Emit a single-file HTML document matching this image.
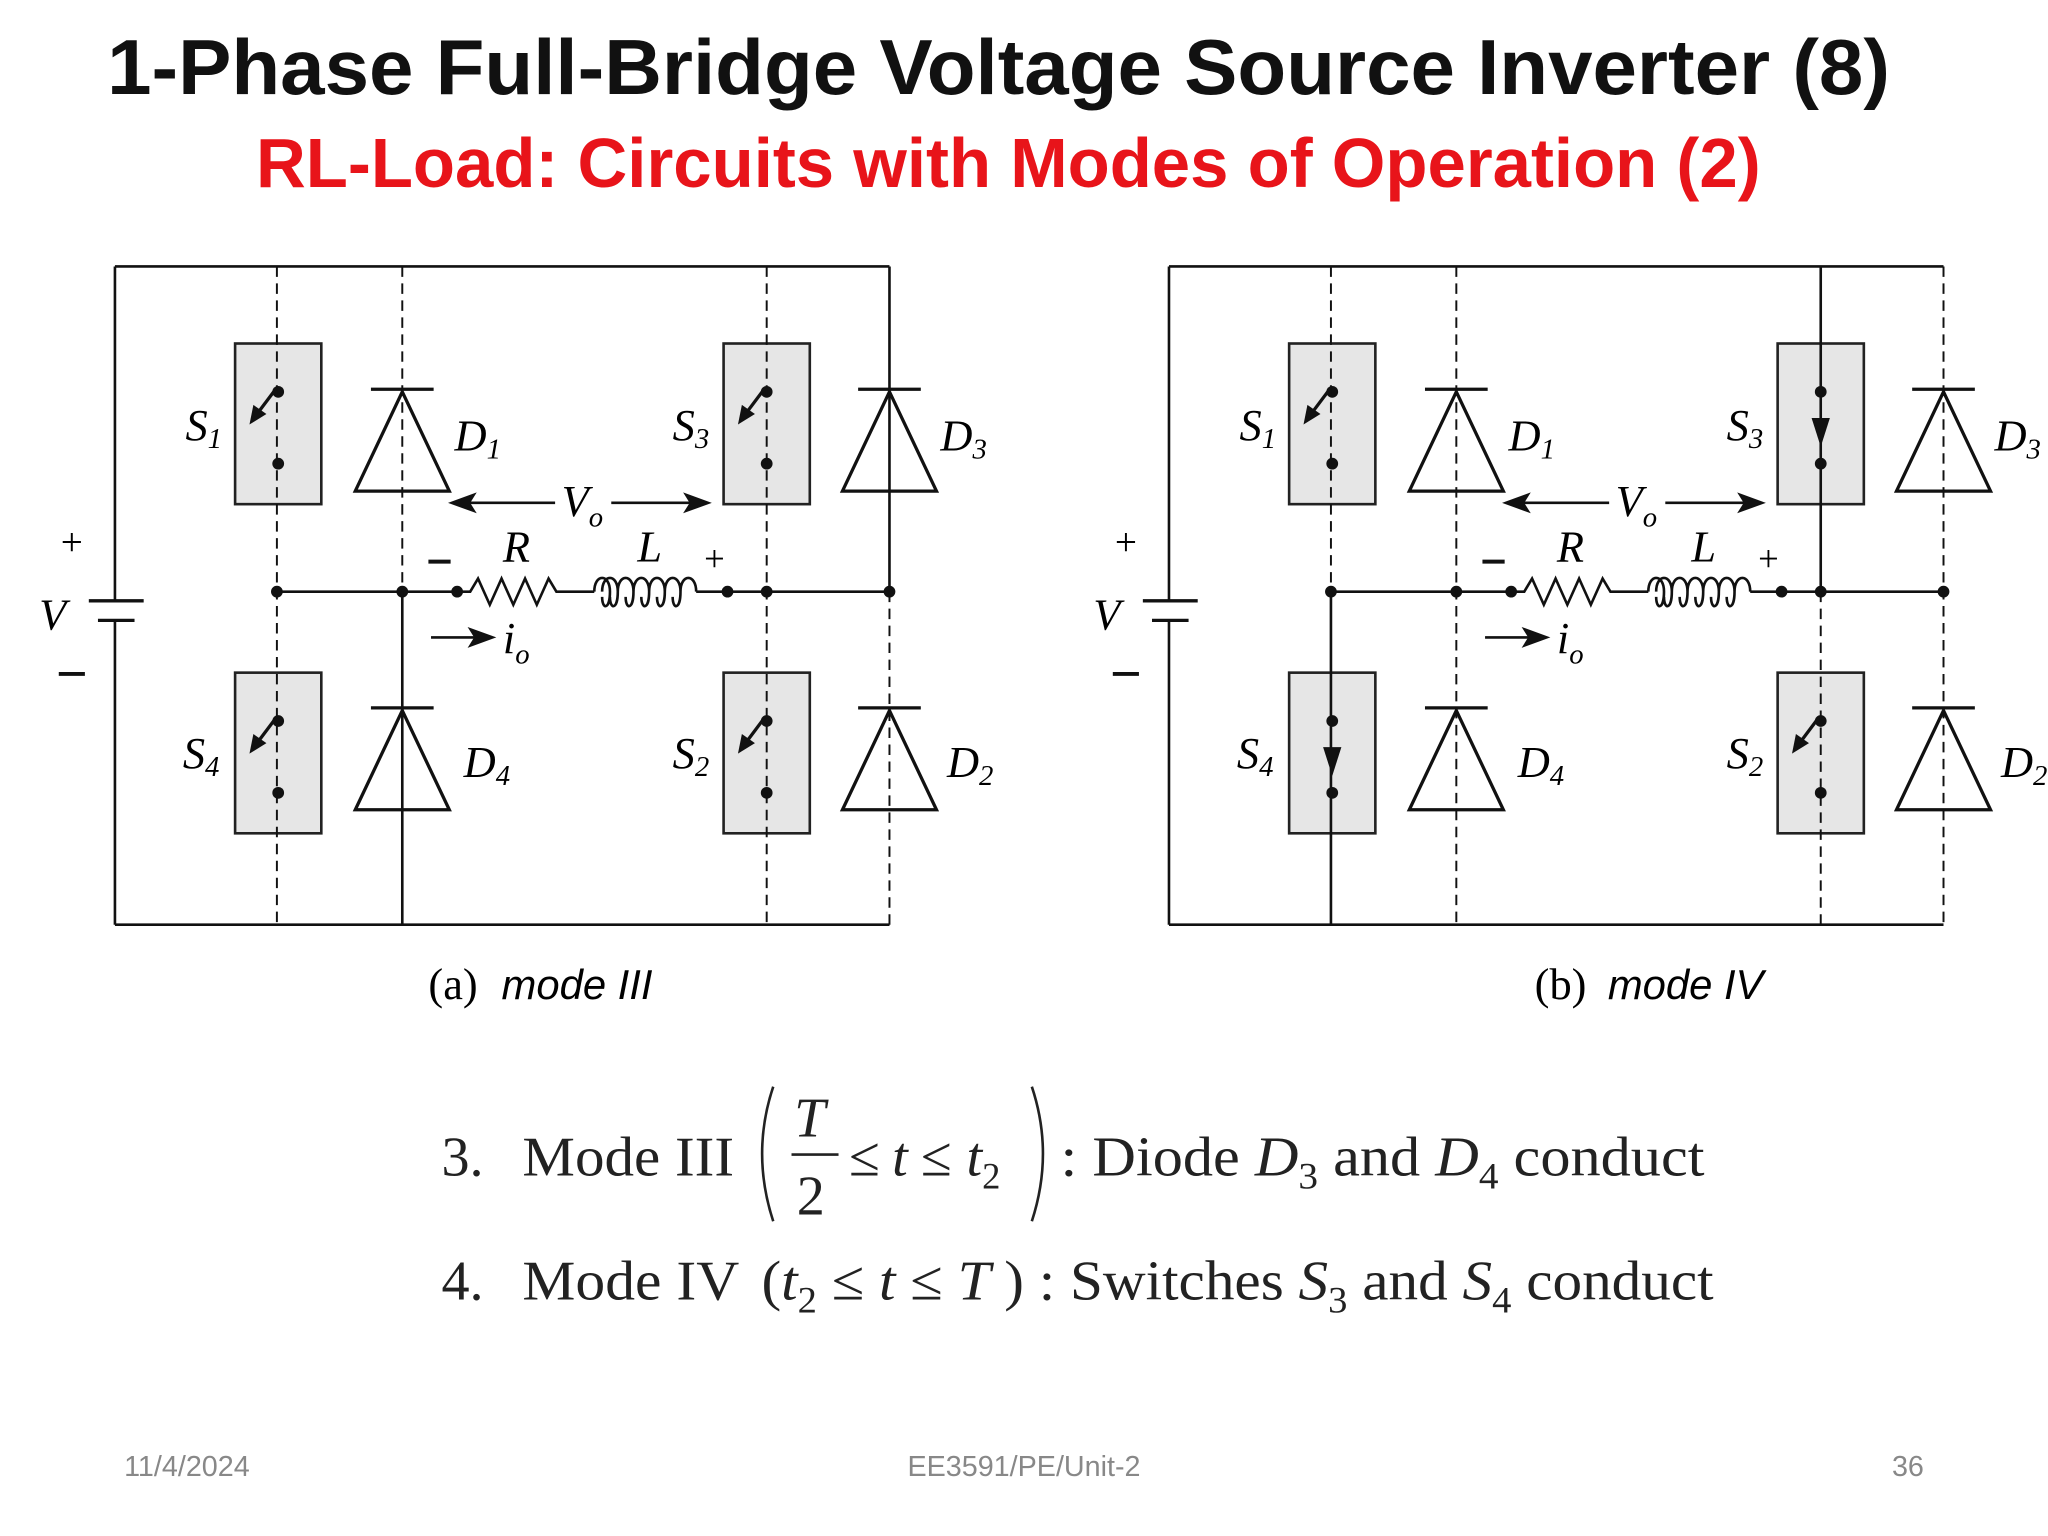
<!DOCTYPE html>
<html><head><meta charset="utf-8"><style>
html,body{margin:0;padding:0;background:#fff;width:2048px;height:1536px;overflow:hidden}
svg{display:block}
.t{font-family:"Liberation Serif",serif;font-style:italic}
.r{font-family:"Liberation Serif",serif}
</style></head><body>
<svg width="2048" height="1536" viewBox="0 0 1568 1176" xmlns="http://www.w3.org/2000/svg">
<text x="82" y="72" textLength="1365" lengthAdjust="spacingAndGlyphs" font-family="Liberation Sans,sans-serif" font-weight="bold" font-size="60" fill="#111">1-Phase Full-Bridge Voltage Source Inverter (8)</text>
<text x="196" y="143" textLength="1152" lengthAdjust="spacingAndGlyphs" font-family="Liberation Sans,sans-serif" font-weight="bold" font-size="53" fill="#e8141a">RL-Load: Circuits with Modes of Operation (2)</text>

<defs>
<g id="sw">
<rect x="-33" y="0" width="66" height="123" fill="#e6e6e6" stroke="#222" stroke-width="2"/>
<circle cx="0" cy="37" r="4.5" fill="#111"/><circle cx="0" cy="92" r="4.5" fill="#111"/>
</g>
<g id="diag"><line x1="-2" y1="-2" x2="-20" y2="22" stroke="#111" stroke-width="2.5"/><path d="M-22,25 L-19,10 L-9,17 Z" fill="#111"/></g>
<g id="di">
<polygon points="0,2 -36,78 36,78" fill="#fff" stroke="#111" stroke-width="2.5"/>
<line x1="-24" y1="0" x2="24" y2="0" stroke="#111" stroke-width="2.5"/>
</g>
<g id="rl">
<polyline points="350,453 360,453 366,443 375,463 384,443 393,463 402,443 411,463 420,443 426,453 455,453" fill="none" stroke="#111" stroke-width="2"/>
<path d="M455,453 c0,-14 12,-14 12,0 c0,14 -6,14 -6,4 M461,453 c0,-14 12,-14 12,0 c0,14 -6,14 -6,4 M473,453 c0,-14 12,-14 12,0 c0,14 -6,14 -6,4 M485,453 c0,-14 12,-14 12,0 c0,14 -6,14 -6,4 M497,453 c0,-14 12,-14 12,0 c0,14 -6,14 -6,4 M509,453 c0,-14 12,-14 12,0 c0,14 -6,14 -6,4 M521,453 c0,-14 12,-14 12,0" fill="none" stroke="#111" stroke-width="2"/>
<line x1="533" y1="453" x2="557" y2="453" stroke="#111" stroke-width="2"/>
</g>
<g id="common">
<line x1="88" y1="204" x2="681" y2="204" stroke="#111" stroke-width="2"/>
<line x1="88" y1="708" x2="681" y2="708" stroke="#111" stroke-width="2"/>
<line x1="88" y1="204" x2="88" y2="460" stroke="#111" stroke-width="2"/>
<line x1="88" y1="475" x2="88" y2="708" stroke="#111" stroke-width="2"/>
<line x1="68" y1="460" x2="110" y2="460" stroke="#111" stroke-width="2.5"/>
<line x1="75" y1="475" x2="103" y2="475" stroke="#111" stroke-width="2.5"/>
<text x="55" y="425" class="r" font-size="30" text-anchor="middle">+</text>
<line x1="45" y1="516" x2="65" y2="516" stroke="#111" stroke-width="3"/>
<text x="30" y="482" class="t" font-size="34">V</text>
<line x1="212" y1="453" x2="350" y2="453" stroke="#111" stroke-width="2"/>
<line x1="557" y1="453" x2="681" y2="453" stroke="#111" stroke-width="2"/>
<use href="#rl"/>
<g fill="#111"><circle cx="212" cy="453" r="4.5"/><circle cx="308" cy="453" r="4.5"/><circle cx="350" cy="453" r="4.5"/><circle cx="557" cy="453" r="4.5"/><circle cx="587" cy="453" r="4.5"/><circle cx="681" cy="453" r="4.5"/></g>
<use href="#sw" x="213" y="263"/><use href="#sw" x="213" y="515"/><use href="#sw" x="587" y="263"/><use href="#sw" x="587" y="515"/>
<use href="#di" x="308" y="298"/><use href="#di" x="308" y="542"/><use href="#di" x="681" y="298"/><use href="#di" x="681" y="542"/>
<text x="142" y="337" class="t" font-size="34">S<tspan font-size="22" dy="6">1</tspan></text>
<text x="140" y="588" class="t" font-size="34">S<tspan font-size="22" dy="6">4</tspan></text>
<text x="515" y="337" class="t" font-size="34">S<tspan font-size="22" dy="6">3</tspan></text>
<text x="515" y="588" class="t" font-size="34">S<tspan font-size="22" dy="6">2</tspan></text>
<text x="348" y="345" class="t" font-size="34">D<tspan font-size="22" dy="6">1</tspan></text>
<text x="355" y="595" class="t" font-size="34">D<tspan font-size="22" dy="6">4</tspan></text>
<text x="720" y="345" class="t" font-size="34">D<tspan font-size="22" dy="6">3</tspan></text>
<text x="725" y="595" class="t" font-size="34">D<tspan font-size="22" dy="6">2</tspan></text>
<line x1="352" y1="385" x2="425" y2="385" stroke="#111" stroke-width="2"/><path d="M343,385 L365,377 L360,385 L365,393Z" fill="#111"/>
<line x1="468" y1="385" x2="535" y2="385" stroke="#111" stroke-width="2"/><path d="M545,385 L523,377 L528,385 L523,393Z" fill="#111"/>
<text x="430" y="395" class="t" font-size="34">V<tspan font-size="22" dy="8">o</tspan></text>
<text x="385" y="430" class="t" font-size="34">R</text>
<text x="488" y="430" class="t" font-size="34">L</text>
<line x1="328" y1="430" x2="345" y2="430" stroke="#111" stroke-width="3"/>
<text x="547" y="437" class="r" font-size="28" text-anchor="middle">+</text>
<line x1="330" y1="488" x2="370" y2="488" stroke="#111" stroke-width="2"/><path d="M380,488 L358,480 L363,488 L358,496Z" fill="#111"/>
<text x="385" y="500" class="t" font-size="34">i<tspan font-size="22" dy="8">o</tspan></text>
</g>
</defs>

<use href="#common"/>
<g stroke="#111" stroke-width="1.5" stroke-dasharray="8,5" fill="none">
<line x1="212" y1="204" x2="212" y2="708"/><line x1="308" y1="204" x2="308" y2="453"/>
<line x1="587" y1="204" x2="587" y2="708"/><line x1="681" y1="453" x2="681" y2="708"/>
</g>
<line x1="308" y1="453" x2="308" y2="708" stroke="#111" stroke-width="2"/>
<line x1="681" y1="204" x2="681" y2="453" stroke="#111" stroke-width="2"/>
<use href="#diag" x="213" y="300"/><use href="#diag" x="213" y="552"/><use href="#diag" x="587" y="300"/><use href="#diag" x="587" y="552"/>
<text x="328" y="765" class="r" font-size="34">(a)</text><text x="384" y="765" font-family="Liberation Sans,sans-serif" font-style="italic" font-size="32">mode III</text>

<g transform="translate(807,0)">
<use href="#common"/>
<g stroke="#111" stroke-width="1.5" stroke-dasharray="8,5" fill="none">
<line x1="212" y1="204" x2="212" y2="453"/><line x1="308" y1="204" x2="308" y2="708"/>
<line x1="587" y1="453" x2="587" y2="708"/><line x1="681" y1="204" x2="681" y2="708"/>
</g>
<line x1="212" y1="453" x2="212" y2="708" stroke="#111" stroke-width="2"/>
<line x1="587" y1="204" x2="587" y2="453" stroke="#111" stroke-width="2"/>
<use href="#diag" x="213" y="300"/><use href="#diag" x="587" y="552"/>
<g fill="#111"><path d="M580,320 L594,320 L587,342Z"/><path d="M206,572 L220,572 L213,594Z"/></g>
<text x="368" y="765" class="r" font-size="34">(b)</text><text x="424" y="765" font-family="Liberation Sans,sans-serif" font-style="italic" font-size="32">mode IV</text>
</g>

<g class="r" font-size="43" fill="#222">
<text x="338" y="900">3.</text><text x="400" y="900" textLength="162" lengthAdjust="spacingAndGlyphs">Mode III</text>
<path d="M592,832 Q575,883 592,935" fill="none" stroke="#222" stroke-width="2"/>
<text x="608" y="870" class="t">T</text><line x1="606" y1="884" x2="642" y2="884" stroke="#222" stroke-width="2"/><text x="610" y="930">2</text>
<text x="650" y="900">≤</text><text x="683" y="900" class="t">t</text><text x="705" y="900">≤</text><text x="740" y="900" class="t">t<tspan font-size="28" dy="10" font-style="normal">2</tspan></text>
<path d="M790,832 Q807,883 790,935" fill="none" stroke="#222" stroke-width="2"/>
<text x="812" y="900" textLength="493" lengthAdjust="spacingAndGlyphs">: Diode <tspan class="t">D</tspan><tspan font-size="28" dy="10">3</tspan><tspan dy="-10"> and </tspan><tspan class="t">D</tspan><tspan font-size="28" dy="10">4</tspan><tspan dy="-10"> conduct</tspan></text>
<text x="338" y="995">4.</text><text x="400" y="995" textLength="166" lengthAdjust="spacingAndGlyphs">Mode IV</text>
<text x="583" y="995" textLength="729" lengthAdjust="spacingAndGlyphs">(<tspan class="t">t</tspan><tspan font-size="28" dy="10">2</tspan><tspan dy="-10"> ≤</tspan><tspan class="t"> t </tspan>≤<tspan class="t"> T </tspan>) : Switches <tspan class="t">S</tspan><tspan font-size="28" dy="10">3</tspan><tspan dy="-10"> and </tspan><tspan class="t">S</tspan><tspan font-size="28" dy="10">4</tspan><tspan dy="-10"> conduct</tspan></text>
</g>

<g font-family="Liberation Sans,sans-serif" font-size="22" fill="#888">
<text x="95" y="1130">11/4/2024</text>
<text x="784" y="1130" text-anchor="middle">EE3591/PE/Unit-2</text>
<text x="1473" y="1130" text-anchor="end">36</text>
</g>
</svg>
</body></html>
